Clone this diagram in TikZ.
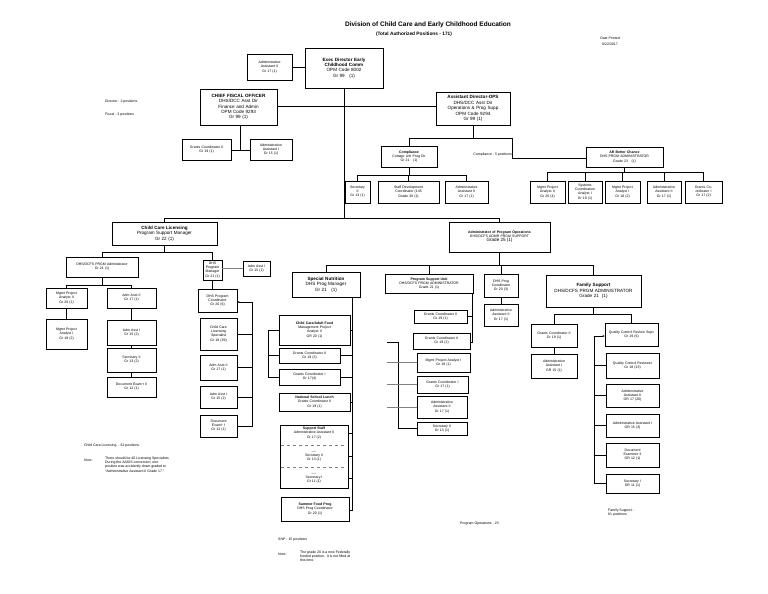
\documentclass[tikz,border=0pt]{standalone}
\usepackage{fontspec}
\setmainfont{Liberation Sans}
\usetikzlibrary{calc,arrows.meta}
\newcommand\tn{\fontsize{3.5}{4.1}\selectfont\lefthyphenmin=64 }
\newcommand\sm{\fontsize{4.6}{5.4}\selectfont\lefthyphenmin=64 }
\tikzset{
  box/.style={draw,line width=0.9pt,inner sep=0.5pt,align=center,font=\tn},
  ln/.style={line width=0.9pt},
  gl/.style={line width=0.5pt,gray},
  note/.style={font=\tn,anchor=west,inner sep=0pt,align=left}
}
% \bx[opts]{name}{x1}{y1}{x2}{y2}{text}
\newcommand\bx[7][]{\node[box,minimum width={(#5-#3)*1pt},minimum height={(#6-#4)*1pt},text width={(#5-#3-2)*0.78pt},#1] (#2) at ({(#3+#5)/2},{(#4+#6)/2}) {#7};}
\begin{document}
\begin{tikzpicture}[x=1pt,y=-1pt]
\useasboundingbox (0,0) rectangle (768,594);
% titles
\node[font=\fontsize{6.5}{7}\selectfont\bfseries] (t1) at (428,25) {Division of Child Care and Early Childhood Education};
\node[font=\fontsize{4.8}{5.5}\selectfont\bfseries] (t2) at (414,34) {(Total Authorized Positions - 171)};
\node[font=\tn,align=center] (dt) at (610,41) {Date Printed\\[2pt]8/22/2017};
% top
\bx{aa2}{247}{54}{292}{80}{Administrative Assistant II\\Gr 17 (1)}
\bx[font=\sm]{exec}{305}{48}{383}{88}{\textbf{Exec Director Early Childhood Comm}\\OPM Code 8002\\Gr 99\quad(1)}
\draw[ln] (aa2.east |- 0,67) -- (exec.west |- 0,67);
\bx[font=\sm,text width=74pt]{cfo}{200}{89}{277}{125}{\textbf{CHIEF FISCAL OFFICER}\\DHS/DCC Asst Dir Finance and Admin\\OPM Code 9293\\Gr 99 (1)}
\bx[font=\sm,text width=70pt]{ado}{436}{92}{510}{125}{\textbf{Assistant Director-OPS}\\DHS/DCC Asst Dir Operations \& Prog Supp\\OPM Code 9294\\Gr 99\ (1)}
\draw[ln] (cfo.east |- 0,106) -- (ado.west |- 0,106);
\node[note] (n1) at (105,102) {Director - 2 positions};
\node[note] (n2) at (105,115) {Fiscal - 3 positions};
\bx{gc2}{182}{139}{231}{160}{Grants Coordinator II\\Gr 19 (1)}
\bx{aa1}{250}{139}{292}{160}{Administrative Assistant I\\Gr 15 (1)}
\draw[ln] (240,125) -- (240,150) coordinate (cj);
\draw[ln] (gc2.east |- cj) -- (aa1.west |- cj);
% compliance
\bx[text width=52pt]{comp}{381}{146}{437}{167}{\textbf{Compliance}\\Cottage Life Prog Dir\\Gr 21\quad(1)}
\bx[text width=74pt]{arb}{586}{147}{663}{167}{\textbf{AR Better Chance}\\DHS PRGM ADMINISTRATOR\\Grade 23\quad(1)}
\draw[ln] (ado.south) -- (ado.south |- 0,138) coordinate (aj);
\draw[ln] (comp.north) |- (512,138) -- (512,158) -- (arb.west |- 0,158);
\node[font=\tn,anchor=east,inner sep=0pt] (n3) at (512,155) {Compliance - 5 positions};
\bx{sec2}{345}{181}{370}{203}{Secretary II\\Gr 13 (1)}
\bx{sdc}{378}{181}{439}{203}{Staff Development Coordinator (145\\Grade 20 (1)}
\bx{aa2c}{445}{181}{488}{203}{Administrative Assistant II\\Gr\ 17\ (1)}
\draw[ln] (comp.south) -- (comp.south |- 0,175);
\draw[ln] (sec2.north) |- (aa2c.north |- 0,175) -- (aa2c.north);
\draw[ln] (sdc.north) -- (sdc.north |- 0,175);
\bx{ar1}{530}{181}{565}{203}{Mgmt Project Analyst II\\Gr 20 (4)}
\bx{ar2}{568}{181}{602}{203}{Systems Coordination Analyst I\\Gr 19 (1)}
\bx{ar3}{605}{181}{640}{203}{Mgmt Project Analyst I\\Gr 18\ (2)}
\bx{ar4}{647}{181}{681}{203}{Administrative Assistant II\\Gr 17 (1)}
\bx{ar5}{685}{181}{722}{203}{Grants Coordinator I\\Gr\ 17\ (2)}
\draw[ln] (arb.south) -- (arb.south |- 0,172);
\draw[ln] (ar1.north) |- (ar5.north |- 0,172) -- (ar5.north);
\foreach \n in {ar2,ar3,ar4} \draw[ln] (\n.north) -- (\n.north |- 0,172);
% second level
\bx[font=\sm,text width=100pt]{ccl}{112}{222}{217}{245}{\textbf{Child Care Licensing}\\Program Support Manager\\Gr 22 (1)}
\bx[text width=98pt]{apo}{449}{222}{550}{252}{\textbf{Administrator of Program Operations}\\DHS/DCFS ADMR PRGM SUPPORT\\{\sm Grade 25 (1)}}
\draw[ln] (exec.south) -- (exec.south |- 0,218) coordinate (ej);
\draw[ln] (ccl.north) |- (apo.north |- ej) -- (apo.north);
% CCL subtree
\bx{dpa}{66}{257}{138}{277}{DHS/DCFS PRGM Administrator\\Gr 21 (1)}
\bx[text width=16pt]{dpm}{203}{260}{222}{280}{DHS Program Manager\\Gr 21 (1)}
\bx{aai1}{243}{261}{270}{276}{Adm Asst I\\Gr 15 (1)}
\draw[ln] (ccl.south) -- (ccl.south |- 0,252);
\draw[ln] (dpa.north) |- (dpm.north |- 0,252) -- (dpm.north);
\draw[gl] (dpm.east |- aai1.west) -- (aai1.west);
\bx{mpa2}{46}{288}{87}{308}{Mgmt Project Analyst II\\Gr 20 (1)}
\bx{adm2}{107}{288}{156}{308}{Adm Asst II\\Gr 17 (1)}
\bx{mpa1}{46}{319}{87}{349}{Mgmt Project Analyst I\\Gr 18 (2)}
\bx{adm1}{107}{320}{156}{345}{Adm Asst I\\Gr 15 (2)}
\bx{secII}{107}{348}{156}{372}{Secretary II\\Gr 13 (2)}
\bx[text width=46pt]{de2}{107}{377}{156}{397}{Document Exam'r II\\Gr 12 (1)}
\draw[ln] (dpa.south) -- (dpa.south |- 0,285);
\draw[ln] (mpa2.north) |- (adm2.north |- 0,285) -- (adm2.north);
\draw[ln] (mpa2) -- (mpa1);
\draw[ln] (adm2) -- (adm1); \draw[ln] (adm1) -- (secII); \draw[ln] (secII) -- (de2);
\bx{dpc}{198}{289}{237}{312}{DHS Program Coordinator\\Gr 20 (6)}
\bx{ccls}{200}{318}{237}{350}{Child Care Licensing Specialist\\Gr 18 (39)}
\bx{caa2}{200}{355}{237}{380}{Adm Asst II\\Gr\ 17 (1)}
\bx{caa1}{200}{386}{237}{408}{Adm Asst I\\Gr\ 15 (2)}
\bx{cde1}{200}{415}{237}{437}{Document Exam'r I\\Gr 12 (1)}
\draw[ln] (dpm.south) -- (dpm.south |- dpc.north);
\draw[ln,-{Stealth[length=2pt,width=2pt]}] (cde1.east) -- (252,426) -- (252,302) -- (dpc.east |- 0,302);
\foreach \n in {ccls,caa2,caa1} \draw[ln] (\n.east) -- (252,0 |- \n.east);
\node[note] (n4) at (84,446) {Child Care Licensing\ \ - 62 positions};
\node[note] (n5) at (84,460) {Note:};
\node[note,anchor=north west] (n6) at (105,457) {There should be 40 Licensing Specialists\\During the AASIS conversion, one\\position was accidently down graded to\\``Administrative Assistant II Grade 17.''};
% program ops subtree
\bx[font=\sm,text width=64pt]{snp}{292}{272}{360}{297}{\textbf{Special Nutrition}\\DHS Prog Manager\\Gr 21\quad(1)}
\bx[text width=86pt]{psu}{385}{274}{473}{293}{\textbf{Program Support Unit}\\DHS/DCFS PRGM ADMINISTRATOR\\Grade 21\ (1)}
\bx{dpc2}{484}{274}{518}{297}{DHS Prog Coordinator\\Gr 20 (3)}
\bx[font=\sm,text width=92pt]{fs}{546}{275}{641}{307}{\textbf{Family Support}\\DHS/DCFS PRGM ADMINISTRATOR\\Grade 21\ \ (1)}
\draw[ln] (apo.south) -- (apo.south |- 0,265);
\draw[ln] (snp.north) |- (fs.north |- 0,265) -- (fs.north);
\foreach \n in {psu,dpc2} \draw[ln] (\n.north) -- (\n.north |- 0,265);
\bx{dpcaa}{484}{304}{518}{326}{Administrative Assistant II\\Gr 17 (1)}
\draw[ln] (dpc2) -- (dpcaa);
% SNP children
\bx[text width=66pt]{cca}{279}{315}{350}{345}{\textbf{Child Care/Adult Food}\\Management Project\\Analyst II\\GR 20\ (1)}
\bx[text width=58pt]{sgc2}{279}{348}{340}{363}{Grants Coordinator II\\Gr 19 (3)}
\bx[text width=58pt]{sgc1}{279}{369}{340}{385}{Grants Coordinator I\\Gr 17(4)}
\bx[text width=68pt]{nsl}{279}{393}{350}{411}{\textbf{National School Lunch}\\Grants Coordinator II\\Gr 19\ (1)}
\bx[text width=66pt]{sfp}{281}{497}{349}{521}{\textbf{Summer Food Prog}\\DHS Prog Coordinator\\Gr 20\ (1)}
\draw[ln] (280,425) rectangle (348,488);
\draw[gl,dashed] (281,445) -- (347,445);
\draw[gl,dashed] (281,467) -- (347,467);
\node[font=\tn,align=center] (ss1) at (314,433) {\textbf{Support Staff}\\Administrative Assistant II\\Gr 17 (2)};
\node[font=\tn,align=center] (ss2) at (314,456) {----\\Secretary II\\Gr 13\ (1)};
\node[font=\tn,align=center] (ss3) at (314,478) {----\\Secretary I\\Gr 11\ (1)};
\draw[ln] (352,297) -- (352,510) -- (sfp.east |- 0,510);
\foreach \n in {cca,sgc2,sgc1,nsl} \draw[ln] (\n.east) -- (352,0 |- \n.east);
\foreach \y in {433,456,478} \draw[ln] (348,\y) -- (352,\y);
\draw[ln] (cca.west) -- (268,0 |- cca.west) -- (268,0 |- sgc1.west) -- (sgc1.west);
\draw[ln] (sgc2.west) -- (268,0 |- sgc2.west);
% PSU children
\bx[text width=50pt]{pg1}{414}{310}{467}{323}{Grants Coordinator II\\Gr 19 (1)}
\bx[text width=54pt]{pg2}{413}{333}{470}{349}{Grants Coordinator II\\Gr 19 (1)}
\bx[text width=52pt]{pm1}{417}{353}{470}{372}{Mgmt Project Analyst I\\Gr 18 (1)}
\bx[text width=50pt]{pgc1}{417}{376}{468}{393}{Grants Coordinator I\\Gr 17\ (1)}
\bx{paa2}{417}{396}{467}{418}{Administrative Assistant II\\Gr 17 (1)}
\bx{psec}{417}{422}{467}{435}{Secretary II\\Gr 13 (1)}
\draw[ln] (472,293) -- (472,342) -- (pg2.east |- 0,342);
\draw[ln] (pg1.east) -- (472,0 |- pg1.east);
\draw[ln] (387,342) -- (398,342) -- (398,428) -- (psec.west |- 0,428);
\foreach \n in {pm1,pgc1,paa2} \draw[gl] (387,0 |- \n.west) -- (\n.west);
\node[note] (n7) at (460,524) {Program Operations - 23};
% Family support children
\bx{fgc}{531}{324}{577}{347}{Grants Coordinator II\\Gr 19 (1)}
\bx{faa}{531}{354}{577}{378}{Administrative Assistant I\\GR 15 (1)}
\bx[text width=50pt]{qcs}{605}{323}{658}{346}{Quality Control Review Supv\\Gr 19\ (6)}
\draw[ln] (fs.south) -- (fs.south |- 0,314);
\draw[ln] (fgc.north) |- (qcs.north |- 0,314) -- (qcs.north);
\draw[ln] (fgc) -- (faa);
\bx{qcr}{606}{353}{659}{378}{Quality Control Reviewer\\Gr 18\ (23)}
\bx{faa2}{606}{384}{659}{407}{Administrative Assistant II\\GR 17 (20)}
\bx{faa1}{606}{414}{659}{437}{Administrative Assistant I\\GR 15 (3)}
\bx[text width=30pt]{fde}{606}{443}{659}{467}{Document Examiner II\\GR 12\ (1)}
\bx{fsec}{606}{474}{659}{493}{Secretary I\\GR 11\ (1)}
\draw[ln,-{Stealth[length=2pt,width=2pt]}] (fsec.west) -- (594,0 |- fsec.west) -- (594,336) -- (qcs.west |- 0,336);
\foreach \n in {qcr,faa2,faa1,fde} \draw[ln] (\n.west) -- (594,0 |- \n.west);
\node[note] (n8) at (608,513) {Family Support -\\61 positions};
\node[note] (n9) at (278,540) {SNP - 15 positions};
\node[note] (n10) at (278,554) {Note:};
\node[note,anchor=north west] (n11) at (300,551) {The grade 20 is a new Federally\\funded position.\ \ It is not filled at\\this time.};
\end{tikzpicture}
\end{document}
